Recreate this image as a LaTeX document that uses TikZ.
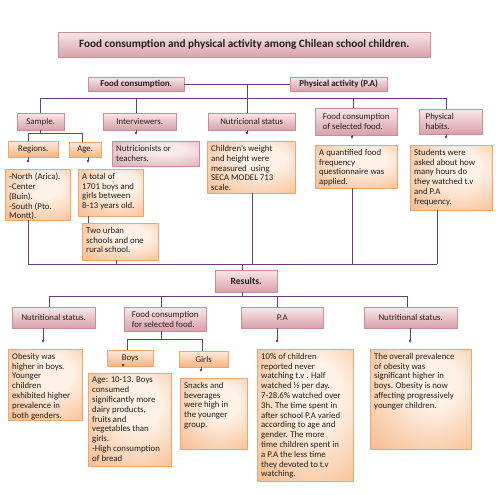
\documentclass[tikz,border=0pt]{standalone}
\usepackage{fontspec}
\setmainfont{Carlito}
\usetikzlibrary{arrows.meta,shadows}

\definecolor{hdrtop}{HTML}{F8E7E9}
\definecolor{hdrbot}{HTML}{D9A0A9}
\definecolor{hdrline}{HTML}{C98F98}
\definecolor{subtop}{HTML}{FDEBDC}
\definecolor{subbot}{HTML}{F4B482}
\definecolor{bodyin}{HTML}{FEF1E6}
\definecolor{bodyout}{HTML}{F4AE78}
\definecolor{bodyline}{HTML}{EBA672}
\definecolor{pinkin}{HTML}{F9EAEC}
\definecolor{pinkout}{HTML}{D9A0A9}
\definecolor{linkcol}{HTML}{6A3C7C}
\definecolor{txt}{HTML}{1F1F1F}

\pgfdeclareradialshading{peach}{\pgfpoint{8bp}{10bp}}{color(0bp)=(bodyin); color(12bp)=(bodyin); color(48bp)=(bodyout); color(70bp)=(bodyout)}
\pgfdeclareradialshading{rose}{\pgfpoint{8bp}{10bp}}{color(0bp)=(pinkin); color(10bp)=(pinkin); color(46bp)=(pinkout); color(70bp)=(pinkout)}

% text of a body box, set from the top
\newcommand{\bodytext}[3]{\parbox[c][#2pt][t]{#1pt}{\raggedright\vspace*{4pt}#3}}

\tikzset{
  boxshadow/.style={drop shadow={opacity=0.35,shadow xshift=1.2pt,shadow yshift=-1.2pt}},
  hdr/.style={draw=hdrline,line width=0.4pt,top color=hdrtop,bottom color=hdrbot,boxshadow,
    anchor=north west,inner xsep=5pt,inner ysep=0pt,align=left,text=txt,
    font=\fontsize{8.8}{9.8}\selectfont},
  hdrbold/.style={hdr,font=\bfseries\fontsize{9}{10.5}\selectfont},
  sub/.style={hdr,draw=bodyline,top color=subtop,bottom color=subbot},
  body/.style={draw=bodyline,line width=0.4pt,shading=peach,boxshadow,
    anchor=north west,inner xsep=4pt,inner ysep=0pt,text=txt,
    font=\fontsize{8.8}{9.8}\selectfont},
  pinkbody/.style={body,draw=hdrline,shading=rose},
  link/.style={draw=linkcol,line width=0.8pt},
  arr/.style={link,-{Latex[length=3pt,width=3.2pt]},shorten >=6pt}
}

\begin{document}
\begin{tikzpicture}[x=1pt,y=-1pt]
\useasboundingbox (0,0) rectangle (495,495);

% title and the two themes
\node[hdr,align=center,font=\bfseries\fontsize{11.2}{13}\selectfont,minimum width=372pt,minimum height=25pt] (title) at (58,32) {Food consumption and physical activity among Chilean school children.};
\node[hdrbold,minimum width=96pt,minimum height=14pt] (fc) at (88,77) {Food consumption.};
\node[hdrbold,minimum width=97pt,minimum height=14pt] (pa) at (290,77) {Physical activity (P.A)};

% methods row
\node[hdr,minimum width=47pt,minimum height=17pt] (sample) at (17,113) {Sample.};
\node[hdr,minimum width=73pt,minimum height=17pt] (interv) at (103,113) {Interviewers.};
\node[hdr,minimum width=87pt,minimum height=17pt] (nutri) at (208,113) {Nutricional status};
\node[hdr,minimum width=82pt,minimum height=27pt] (foodsel) at (315,108) {Food consumption\\of selected food.};
\node[hdr,text width=50pt,minimum width=63pt,minimum height=25pt] (habits) at (419,109) {Physical\\habits.};

\node[sub,minimum width=50pt,minimum height=16pt] (regions) at (8,141) {Regions.};
\node[sub,minimum width=32pt,minimum height=15pt] (age) at (69,142) {Age.};

\node[body] (regtxt) at (5,169) {\bodytext{57}{51}{-North (Arica).\\-Center\\(Buin).\\-South (Pto.\\Montt).}};
\node[body] (agetxt) at (78,169) {\bodytext{57}{47}{A total of\\1701 boys and\\girls between\\8-13 years old.}};
\node[body] (schools) at (82,223) {\bodytext{68}{37}{Two urban\\schools and one\\rural school.}};
\node[pinkbody] (nicttxt) at (112,141) {\bodytext{79}{25}{Nutricionists or\\teachers.}};
\node[body] (childtxt) at (207,141) {\bodytext{80}{52}{Children’s weight\\and height were\\measured\ \ using\\SECA MODEL 713\\scale.}};
\node[body] (quanttxt) at (315,145) {\bodytext{74}{43}{A quantified food\\frequency\\questionnaire was\\applied.}};
\node[body] (studtxt) at (410,145) {\bodytext{74}{65}{Students were\\asked about how\\many hours do\\they watched t.v\\and P.A\\frequency.}};

% results
\node[hdrbold,align=center,font=\bfseries\fontsize{9.6}{11}\selectfont,minimum width=62pt,minimum height=22pt] (results) at (215,270) {Results.};

\node[hdr,minimum width=83pt,minimum height=21pt] (rnut) at (12,307) {Nutritional status.};
\node[hdr,minimum width=82pt,minimum height=24pt] (rfood) at (124,307) {Food consumption\\for selected food.};
\node[hdr,align=center,minimum width=82pt,minimum height=21pt] (rpa) at (241,307) {P.A};
\node[hdr,minimum width=93pt,minimum height=21pt] (rnut2) at (364,307) {Nutritional status.};

\node[sub,minimum width=46pt,minimum height=16pt] (boys) at (107,350) {Boys};
\node[sub,minimum width=49pt,minimum height=16pt] (girls) at (179,351) {Girls};

\node[body] (obes) at (8,349) {\bodytext{66}{71}{Obesity was\\higher in boys.\\Younger\\children\\exhibited higher\\prevalence in\\both genders.}};
\node[body] (boystxt) at (88,373) {\bodytext{75}{93}{Age: 10-13. Boys\\consumed\\significantly more\\dairy products,\\fruits and\\vegetables than\\girls.\\-High consumption\\of bread}};
\node[body] (girlstxt) at (180,378) {\bodytext{59}{71}{Snacks and\\beverages\\were high in\\the younger\\group.}};
\node[body] (patxt) at (257,349) {\bodytext{88}{132}{10\% of children\\reported never\\watching t.v . Half\\watched ½ per day.\\7-28.6\% watched over\\3h. The time spent in\\after school P.A varied\\according to age and\\gender. The more\\time children spent in\\a P.A the less time\\they devoted to t.v\\watching.}};
\node[body] (nut2txt) at (370,349) {\bodytext{93}{100}{The overall prevalence\\of obesity was\\significant higher in\\boys. Obesity is now\\affecting progressively\\younger children.}};

% connectors, upper part
\draw[link] (fc.east) -- (pa.west);
\coordinate (hub) at (247,84);
\draw[link] (hub) -- (hub |- nutri.north);
\draw[link] (40,98) -- (446,98);
\foreach \x/\n in {40/sample,136/interv,353/foodsel,446/habits}
  \draw[link] (\x,98) -- (\x,98 |- \n.north);

\draw[link] (sample.south -| 40,0) -- (40,133);
\draw[link] (regions.north -| 28,0) -- (28,133) -- (82,133) -- (age.north -| 82,0);
\draw[link] (agetxt.south -| 88,0) -- (88,0 |- schools.north);

\foreach \x/\a/\b in {28/regions/regtxt,88/age/agetxt,136/interv/nicttxt,247/nutri/childtxt,352/foodsel/quanttxt,446/habits/studtxt}
  \draw[arr] (\a.south -| \x,0) -- (\x,0 |- \b.north);

\foreach \x/\n in {28/regtxt,116/schools,252/childtxt,352/quanttxt,437/studtxt}
  \draw[link] (\n.south -| \x,0) -- (\x,264);
\draw[link] (28,264) -- (437,264);
\draw[link] (242,264) -- (242,0 |- results.north);

% connectors, lower part
\draw[link] (results.south -| 242,0) -- (242,296);
\draw[link] (49,296) -- (407,296);
\foreach \x/\n in {49/rnut,161/rfood,277/rpa,407/rnut2}
  \draw[link] (\x,296) -- (\x,0 |- \n.north);

\draw[link] (rfood.south -| 161,0) -- (161,339);
\draw[link] (boys.north -| 127,0) -- (127,339) -- (202,339) -- (girls.north -| 202,0);

\foreach \x/\a/\b in {43/rnut/obes,123/boys/boystxt,201/girls/girlstxt,277/rpa/patxt,410/rnut2/nut2txt}
  \draw[arr] (\a.south -| \x,0) -- (\x,0 |- \b.north);

\end{tikzpicture}
\end{document}
